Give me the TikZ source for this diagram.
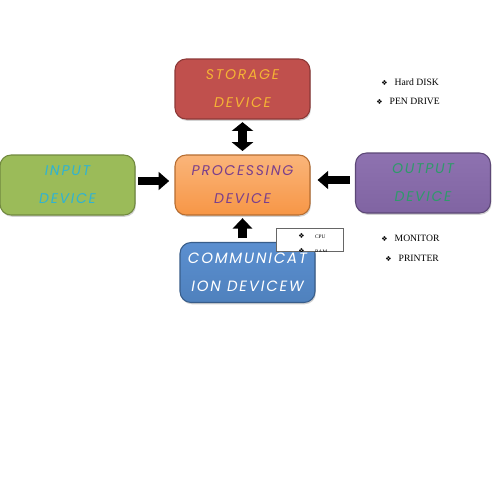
\documentclass[tikz,border=0pt]{standalone}
\usepackage{fontspec}
\setmainfont{Liberation Serif}
\newfontfamily\boxfont[LetterSpace=12]{Poppins}
\newfontfamily\symfont{DejaVu Sans}
\usetikzlibrary{arrows.meta,shadows,calc}
\definecolor{stRed}{HTML}{C0504D}
\definecolor{stRedD}{HTML}{8C3836}
\definecolor{inGreen}{HTML}{9BBB59}
\definecolor{inGreenD}{HTML}{71893F}
\definecolor{prOrange}{HTML}{F79646}
\definecolor{prOrangeL}{HTML}{FAB57A}
\definecolor{prOrangeD}{HTML}{B66D31}
\definecolor{ouPurple}{HTML}{8064A2}
\definecolor{ouPurpleL}{HTML}{8E72B0}
\definecolor{ouPurpleD}{HTML}{5C4776}
\definecolor{coBlue}{HTML}{4F81BD}
\definecolor{coBlueL}{HTML}{5B8FD0}
\definecolor{coBlueD}{HTML}{385D8A}
\definecolor{txYellow}{HTML}{F5B335}
\definecolor{txCyan}{HTML}{2FB3D3}
\definecolor{txPurple}{HTML}{7A3F8C}
\definecolor{txTeal}{HTML}{2E9A6A}
\tikzset{
  devbox/.style={rounded corners=0.22cm, minimum width=2.7cm, minimum height=1.2cm,
    line width=0.6pt, align=center, inner sep=0pt,
    font=\boxfont\itshape\fontsize{8}{16}\selectfont,
    drop shadow={shadow xshift=0.5pt, shadow yshift=-1pt, opacity=0.35}},
  blockarrow/.style={line width=4pt, -{Triangle[length=6pt,width=10pt]}},
  dblarrow/.style={line width=5pt, {Triangle[length=5pt,width=12pt]}-{Triangle[length=5pt,width=12pt]}},
  bul/.style={font=\fontsize{5.5}{6}\selectfont, anchor=west, inner sep=0pt},
}
\newcommand{\dia}{{\symfont\fontsize{4}{4}\selectfont ❖}}
\begin{document}
\begin{tikzpicture}[x=0.02cm,y=-0.02cm]
\useasboundingbox (0,0) rectangle (495,495);
\fill[white] (0,0) rectangle (495,495);
% boxes
\node[devbox, draw=stRedD, fill=stRed, text=txYellow] (stor) at (242.5,89) {STORAGE\\DEVICE};
\node[devbox, draw=inGreenD, fill=inGreen, text=txCyan] (inp) at (67.5,185) {INPUT\\DEVICE};
\node[devbox, draw=prOrangeD, top color=prOrangeL, bottom color=prOrange, text=txPurple] (proc) at (242.5,185) {PROCESSING\\DEVICE};
\node[devbox, draw=ouPurpleD, top color=ouPurpleL, bottom color=ouPurple, text=txTeal] (outp) at (423,183) {OUTPUT\\DEVICE};
\node[devbox, draw=coBlueD, top color=coBlueL, bottom color=coBlue, text=white, font=\boxfont\itshape\fontsize{8.5}{16}\selectfont] (comm) at (247.5,272.5) {COMMUNICAT\\ION DEVICEW};
% arrows
\draw[blockarrow, shorten >=3pt, shorten <=1.5pt] ($(inp.east)+(0,-4)$) coordinate (ia) -- (ia -| proc.west);
\draw[blockarrow, shorten >=4pt, shorten <=3pt] ($(outp.west)+(0,-3)$) coordinate (oa) -- (oa -| proc.east);
\draw[dblarrow, shorten >=2pt, shorten <=1.5pt] (stor.south) -- (proc.north);
\draw[blockarrow, line width=5pt, -{Triangle[length=6pt,width=11pt]}, shorten <=2pt, shorten >=1.5pt] (comm.north -| proc.south) coordinate (ca) -- (proc.south);
% small box
\node[draw=black!60, fill=white, line width=0.4pt, minimum width=1.34cm, minimum height=0.46cm, inner sep=0pt] (cpu) at (309.5,239.5) {};
\begin{scope}
\clip (cpu.south west) rectangle (cpu.north east);
\node[font=\fontsize{3}{3}\selectfont, anchor=west, inner sep=0pt] (cpuline) at (298,236) {\dia\hspace{6pt}CPU};
\node[font=\fontsize{3}{3}\selectfont, anchor=west, inner sep=0pt] (ramline) at (298,251) {\dia\hspace{6pt}RAM};
\end{scope}
% lists
\node[bul] (hd) at (381,82) {\dia\hspace{4pt}Hard DISK};
\node[bul] (pd) at (376,101) {\dia\hspace{4pt}PEN DRIVE};
\node[bul] (mo) at (381,238) {\dia\hspace{4pt}MONITOR};
\node[bul] (pr) at (385,258) {\dia\hspace{4pt}PRINTER};
\end{tikzpicture}
\end{document}
